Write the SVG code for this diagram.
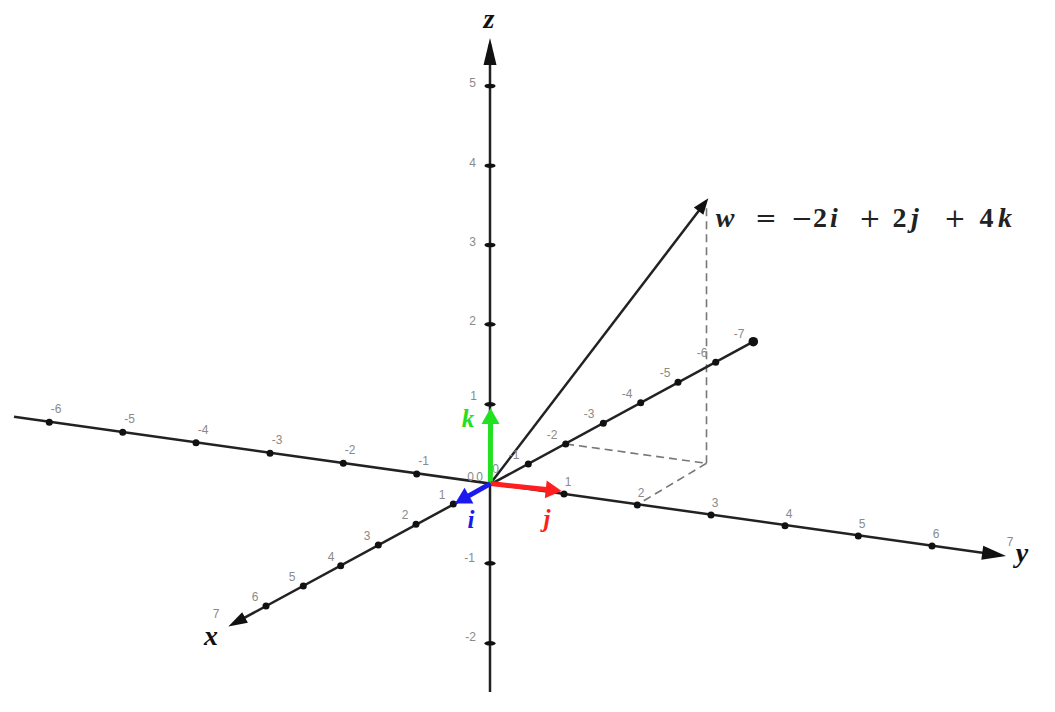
<svg xmlns="http://www.w3.org/2000/svg" width="1055" height="712" viewBox="0 0 1055 712">
<style>
.ax{stroke:#222;stroke-width:2.5;fill:none}
.dash{stroke:#777;stroke-width:1.6;stroke-dasharray:8 5;fill:none}
.dot{fill:#111}
.tk{fill:#111}
.lb{font-family:"Liberation Sans",Arial,sans-serif;font-size:12px;fill:#8a8a8a}
.lx{text-anchor:middle}
.lz{text-anchor:end}
.big{font-family:"Liberation Serif","Times New Roman",serif;font-weight:bold;font-style:italic;font-size:28px;text-anchor:middle;fill:#111}
.uv{font-family:"Liberation Serif","Times New Roman",serif;font-weight:bold;font-style:italic;font-size:25px;text-anchor:middle}
.eq{font-family:"Liberation Serif","Times New Roman",serif;font-weight:bold;font-size:28px;fill:#222;text-anchor:middle}
.eq .v{font-style:italic}
.eq .op{font-family:"DejaVu Serif",serif;font-weight:normal;font-size:26px}
</style>
<defs>
<marker id="ahz" viewBox="-28 -7 30 14" markerWidth="30" markerHeight="14" refX="-6" refY="0" orient="auto" markerUnits="userSpaceOnUse"><path d="M0,0 L-27,-6.5 L-27,6.5 Z" fill="#111"/></marker>
<marker id="ahy" viewBox="-26 -8 28 16" markerWidth="28" markerHeight="16" refX="-6" refY="0" orient="auto" markerUnits="userSpaceOnUse"><path d="M0,0 L-24,-7 L-24,7 Z" fill="#111"/></marker>
<marker id="ahx" viewBox="-22 -7 24 14" markerWidth="24" markerHeight="14" refX="-6" refY="0" orient="auto" markerUnits="userSpaceOnUse"><path d="M0,0 L-19,-6 L-19,6 Z" fill="#111"/></marker>
<marker id="ahw" viewBox="-18 -7 20 14" markerWidth="20" markerHeight="14" refX="-5" refY="0" orient="auto" markerUnits="userSpaceOnUse"><path d="M0,0 L-16,-6 L-16,6 Z" fill="#111"/></marker>
<marker id="ahk" viewBox="-18 -10 20 20" markerWidth="20" markerHeight="20" refX="-8" refY="0" orient="auto" markerUnits="userSpaceOnUse"><path d="M0,0 L-16,-9 L-16,9 Z" fill="#22e022"/></marker>
<marker id="ahj" viewBox="-18 -10 20 20" markerWidth="20" markerHeight="20" refX="-8" refY="0" orient="auto" markerUnits="userSpaceOnUse"><path d="M0,0 L-16,-9 L-16,9 Z" fill="#ff1f1f"/></marker>
<marker id="ahi" viewBox="-18 -10 20 20" markerWidth="20" markerHeight="20" refX="-8" refY="0" orient="auto" markerUnits="userSpaceOnUse"><path d="M0,0 L-16,-9 L-16,9 Z" fill="#1a1aee"/></marker>
</defs>
<rect width="1055" height="712" fill="#fff"/>

<g id="guides">
<path class="dash" d="M566,444 L706.5,463.3 M706.5,463.3 L706.5,205 M706.5,463.3 L640,503"/>
</g>

<g id="connectors">
<line id="z-axis" class="ax" x1="490" y1="692" x2="490" y2="44" marker-end="url(#ahz)"/>
<line id="y-axis" class="ax" x1="14" y1="416.7" x2="1000.1" y2="555.2" marker-end="url(#ahy)"/>
<line id="x-axis" class="ax" x1="753.3" y1="341.7" x2="233.6" y2="623.7" marker-end="url(#ahx)"/>
<line id="w-vec" class="ax" x1="490.4" y1="483.6" x2="705.3" y2="202.3" marker-end="url(#ahw)"/>
</g>

<g id="ticks">
<g id="x-ticks">
<circle class="dot" cx="453.3" cy="504" r="3.5"/>
<circle class="dot" cx="416" cy="524.3" r="3.5"/>
<circle class="dot" cx="378.3" cy="545" r="3.5"/>
<circle class="dot" cx="340.7" cy="565.7" r="3.5"/>
<circle class="dot" cx="303.3" cy="586" r="3.5"/>
<circle class="dot" cx="266" cy="606" r="3.5"/>
<circle class="dot" cx="528.3" cy="464" r="3.5"/>
<circle class="dot" cx="565.7" cy="444" r="3.5"/>
<circle class="dot" cx="603.3" cy="423.3" r="3.5"/>
<circle class="dot" cx="640.7" cy="402.7" r="3.5"/>
<circle class="dot" cx="678" cy="382.3" r="3.5"/>
<circle class="dot" cx="715.7" cy="362.3" r="3.5"/>
<circle class="dot" cx="753.3" cy="341.7" r="4.8"/>
</g>
<g id="y-ticks">
<circle class="dot" cx="564" cy="494" r="3.5"/>
<circle class="dot" cx="637.3" cy="505" r="3.5"/>
<circle class="dot" cx="711" cy="515" r="3.5"/>
<circle class="dot" cx="785" cy="525.7" r="3.5"/>
<circle class="dot" cx="858.3" cy="536" r="3.5"/>
<circle class="dot" cx="932" cy="546" r="3.5"/>
<circle class="dot" cx="416.7" cy="474" r="3.5"/>
<circle class="dot" cx="343.3" cy="463.3" r="3.5"/>
<circle class="dot" cx="270" cy="453.3" r="3.5"/>
<circle class="dot" cx="196" cy="442.7" r="3.5"/>
<circle class="dot" cx="122.7" cy="432.3" r="3.5"/>
<circle class="dot" cx="49.3" cy="422.3" r="3.5"/>
</g>
<g id="z-ticks">
<ellipse class="tk" cx="490" cy="86" rx="5.5" ry="2.3"/>
<ellipse class="tk" cx="490" cy="165.7" rx="5.5" ry="2.3"/>
<ellipse class="tk" cx="490" cy="245" rx="5.5" ry="2.3"/>
<ellipse class="tk" cx="490" cy="324.3" rx="5.5" ry="2.3"/>
<ellipse class="tk" cx="490" cy="404.3" rx="5.5" ry="2.3"/>
<ellipse class="tk" cx="490" cy="563.3" rx="5.5" ry="2.3"/>
<ellipse class="tk" cx="490" cy="643.3" rx="5.5" ry="2.3"/>
</g>
</g>

<g id="tick-labels" class="lb">
<g class="lx">
<text x="442" y="499">1</text>
<text x="405" y="519">2</text>
<text x="367" y="540">3</text>
<text x="331" y="561">4</text>
<text x="292" y="581">5</text>
<text x="255" y="601">6</text>
<text x="216" y="618">7</text>
<text x="514" y="459">-1</text>
<text x="552" y="439">-2</text>
<text x="589" y="418">-3</text>
<text x="627" y="398">-4</text>
<text x="665" y="377">-5</text>
<text x="702" y="357">-6</text>
<text x="739" y="338">-7</text>
<text x="568" y="486">1</text>
<text x="641" y="497">2</text>
<text x="715" y="507">3</text>
<text x="789" y="518">4</text>
<text x="862" y="528">5</text>
<text x="936" y="538">6</text>
<text x="1010" y="546">7</text>
<text x="423.5" y="465">-1</text>
<text x="350" y="454">-2</text>
<text x="277" y="444">-3</text>
<text x="203" y="434">-4</text>
<text x="129.5" y="423">-5</text>
<text x="56" y="413">-6</text>
<text x="479.5" y="481">0</text>
<text x="495.5" y="473">0</text>
</g>
<g class="lz">
<text x="476" y="87">5</text>
<text x="476" y="167">4</text>
<text x="476" y="246">3</text>
<text x="476" y="325">2</text>
<text x="477" y="400">1</text>
<text x="474" y="481">0</text>
<text x="475" y="562">-1</text>
<text x="476" y="641">-2</text>
</g>
</g>

<g id="unit-vectors">
<line id="k-vec" x1="490.4" y1="483.6" x2="490.5" y2="416" stroke="#22e022" stroke-width="5" marker-end="url(#ahk)"/>
<line id="j-vec" x1="490.4" y1="483.6" x2="553.7" y2="490.2" stroke="#ff1f1f" stroke-width="5" marker-end="url(#ahj)"/>
<line id="i-vec" x1="490.4" y1="483.6" x2="462" y2="499.6" stroke="#1a1aee" stroke-width="5" marker-end="url(#ahi)"/>
</g>

<g id="axis-labels">
<text class="big" x="489" y="28">z</text>
<text class="big" x="211" y="645">x</text>
<text class="big" x="1022" y="562">y</text>
<text class="uv" x="468" y="427" fill="#22e022">k</text>
<text class="uv" x="471" y="528" fill="#1a1aee">i</text>
<text class="uv" x="547" y="527" fill="#ff1f1f">j</text>
</g>

<g id="w-label">
<text class="eq" y="227"><tspan class="v" x="725">w</tspan><tspan class="op" x="766">=</tspan><tspan class="op" x="802">−</tspan><tspan x="820">2</tspan><tspan class="v" x="834">i</tspan><tspan class="op" x="870">+</tspan><tspan x="899.5">2</tspan><tspan class="v" x="915">j</tspan><tspan class="op" x="955">+</tspan><tspan x="986.5">4</tspan><tspan class="v" x="1005">k</tspan></text>
</g>
</svg>
